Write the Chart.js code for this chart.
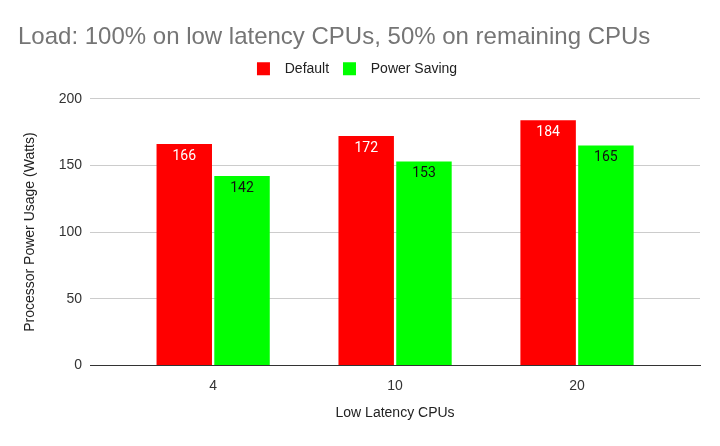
<!DOCTYPE html>
<html>
<head>
<meta charset="utf-8">
<script src="https://cdn.jsdelivr.net/npm/chart.js@4"></script>
<style>
  html, body { margin: 0; padding: 0; background: #fff; }
  #wrap { width: 720px; height: 446px; }
</style>
</head>
<body>
<div id="wrap"><canvas id="chart" width="720" height="446"></canvas></div>
<script>
// chart data
const categories = ['4', '10', '20'];
const defaultWatts = [166, 172, 184];
const powerSavingWatts = [142, 153, 165];
const yTicks = [0, 50, 100, 150, 200];

// draws the value near the top inside each bar
const barLabels = {
  id: 'barLabels',
  afterDatasetsDraw(chart) {
    const ctx = chart.ctx;
    ctx.save();
    ctx.font = '14px Roboto';
    ctx.textAlign = 'center';
    ctx.textBaseline = 'middle';
    chart.data.datasets.forEach((ds, i) => {
      const meta = chart.getDatasetMeta(i);
      meta.data.forEach((bar, j) => {
        ctx.fillStyle = ds.labelColor;
        ctx.fillText(ds.data[j], bar.x, bar.y + 12);
      });
    });
    ctx.restore();
  }
};

// a bit more room under the legend
const legendGap = {
  id: 'legendGap',
  beforeInit(chart) {
    const fit = chart.legend.fit;
    chart.legend.fit = function() {
      fit.call(this);
      this.height += 13;
    };
  }
};

// extra space at both ends of the category axis, in categories
const edgePad = 0.176;

new Chart(document.getElementById('chart'), {
  type: 'bar',
  data: {
    labels: categories,
    datasets: [
      { label: 'Default', data: defaultWatts, backgroundColor: '#ff0000', labelColor: '#ffffff' },
      { label: 'Power Saving', data: powerSavingWatts, backgroundColor: '#00ff00', labelColor: '#111111' }
    ]
  },
  options: {
    responsive: false,
    animation: false,
    layout: { padding: { left: 18, right: 20, top: 0, bottom: 20 } },
    datasets: { bar: { categoryPercentage: 0.635, barPercentage: 0.96 } },
    plugins: {
      title: {
        display: true, text: 'Load: 100% on low latency CPUs, 50% on remaining CPUs',
        align: 'start', color: '#757575',
        font: { family: 'Liberation Sans', size: 24, weight: 'normal' },
        padding: { top: 23, bottom: 0 }
      },
      legend: {
        labels: {
          boxWidth: 13, boxHeight: 13, color: '#222', padding: 10,
          font: { family: 'Liberation Sans', size: 14 },
          generateLabels: chart => Chart.defaults.plugins.legend.labels.generateLabels(chart)
            .map(item => Object.assign(item, { text: '  ' + item.text + ' ' }))
        }
      },
      tooltip: { enabled: false }
    },
    scales: {
      x: {
        grid: { display: false },
        border: { display: true, color: '#333' },
        afterUpdate: axis => {
          axis._startValue = -0.5 - edgePad;
          axis._valueRange = categories.length + 2 * edgePad;
        },
        ticks: { color: '#333', padding: 4, font: { family: 'Liberation Sans', size: 14 } },
        title: { display: true, text: 'Low Latency CPUs', color: '#222', padding: { top: 7 },
          font: { family: 'Liberation Sans', size: 14 } }
      },
      y: {
        min: 0, max: 200,
        afterBuildTicks: axis => { axis.ticks = yTicks.map(v => ({ value: v })); },
        grid: { drawTicks: false, color: c => c.tick.value === 0 ? '#333' : '#cccccc' },
        border: { display: false },
        ticks: { color: '#333', padding: 8, font: { family: 'Liberation Sans', size: 14 } },
        title: { display: true, text: 'Processor Power Usage (Watts)', color: '#222', padding: { bottom: 12 },
          font: { family: 'Liberation Sans', size: 14 } }
      }
    }
  },
  plugins: [barLabels, legendGap]
});
</script>
</body>
</html>
